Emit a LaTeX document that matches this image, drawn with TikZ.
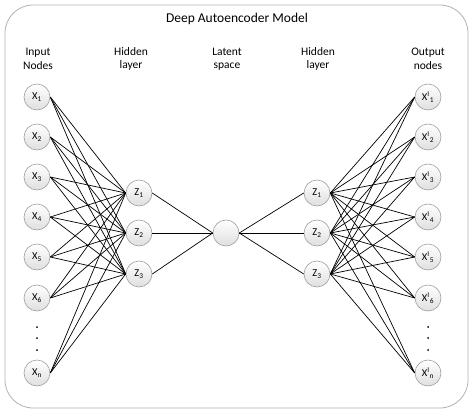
\documentclass[tikz,border=0pt]{standalone}
\usepackage{fontspec}
\setmainfont{Carlito}
\usetikzlibrary{positioning}
\tikzset{x=1pt, y=-1pt,
neuron/.style={ % circles of every layer
circle, draw=gray!75, semithick,
top color=white, bottom color=gray!25,
minimum size=26pt, inner sep=0pt,
font=\fontsize{10.5}{10.5}\selectfont},
heading/.style={align=center, font=\fontsize{11.5}{13.5}\selectfont},
link/.style={draw, line width=0.7pt}}

\begin{document}
\begin{tikzpicture}
	\useasboundingbox (0,0) rectangle (474,415);
	\draw[gray!60, line width=0.8pt, rounded corners=28pt] (5,5) rectangle (468,408);
	\node[font=\fontsize{13.5}{15}\selectfont] (title) at (237,19) {Deep Autoencoder Model};
	\node[heading] (hin) at (38,59) {Input\\Nodes};
	\node[heading] (hz) at (131,59) {Hidden\\layer};
	\node[heading] (hl) at (227,59) {Latent\\space};
	\node[heading] (hzr) at (318,59) {Hidden\\layer};
	\node[heading] (hout) at (428,59) {Output\\nodes};
	% input and output layers
	\foreach \i/\y in {1/97,2/137,3/177,4/217,5/257,6/298,n/373} {
		\node[neuron] (x\i) at (37,\y) {X\textsubscript{\i}};
		\node[neuron] (o\i) at (428,\y) {X\textsuperscript{I}\textsubscript{\i}};
	}
	\foreach \y in {327,338,350} {
		\fill (37,\y) circle (1pt);
		\fill (428,\y) circle (1pt);
	}
	% hidden layers and latent space
	\foreach \j/\y in {1/193,2/233,3/274} {
		\node[neuron] (z\j) at (139,\y) {Z\textsubscript{\j}};
		\node[neuron] (zr\j) at (317,\y) {Z\textsubscript{\j}};
	}
	\node[neuron] (lat) at (226,233) {};
	\foreach \i in {1,2,3,4,5,6,n}
		\foreach \j in {1,2,3} {
			\draw[link] (x\i.east) -- (z\j.west);
			\draw[link] (zr\j.east) -- (o\i.west);
		}
	\foreach \j in {1,2,3} {
		\draw[link] (z\j.east) -- (lat.west);
		\draw[link] (lat.east) -- (zr\j.west);
	}
\end{tikzpicture}
\end{document}
